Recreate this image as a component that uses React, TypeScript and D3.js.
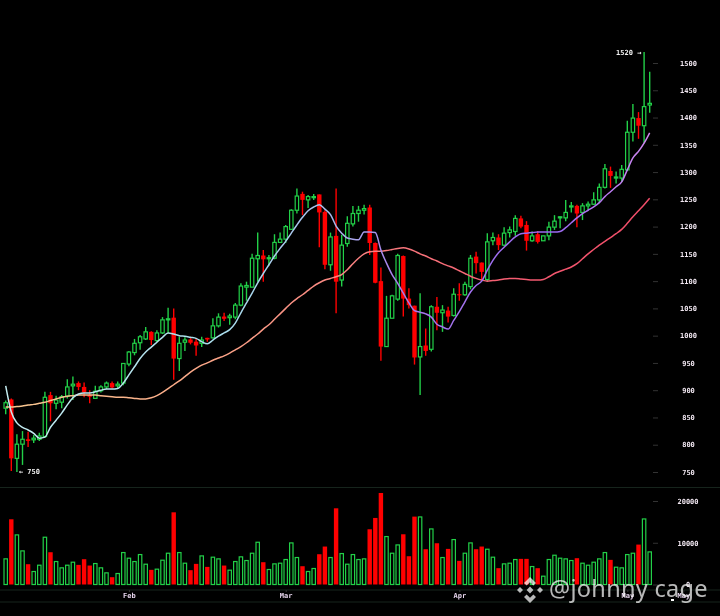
import React, { useEffect, useRef } from "react";
import * as d3 from "d3";

const opens = [867, 883, 775, 801, 810, 809, 810, 815, 891, 876, 878, 889, 908, 913, 906, 891, 885, 899, 906, 913, 908, 913, 948, 969, 987, 994, 1007, 991, 1005, 1029, 1033, 958, 988, 993, 989, 986, 996, 996, 1018, 1035, 1033, 1034, 1056, 1089, 1089, 1141, 1147, 1141, 1142, 1171, 1177, 1195, 1230, 1260, 1249, 1253, 1259, 1227, 1130, 1183, 1102, 1169, 1205, 1224, 1230, 1235, 1170, 1100, 980, 1032, 1067, 1146, 1068, 1055, 961, 982, 975, 1053, 1042, 1046, 1037, 1076, 1075, 1090, 1145, 1134, 1103, 1174, 1180, 1166, 1189, 1191, 1215, 1203, 1174, 1186, 1174, 1183, 1199, 1216, 1216, 1236, 1238, 1226, 1238, 1241, 1249, 1272, 1302, 1289, 1289, 1304, 1373, 1399, 1385, 1423];
const highs = [881, 885, 819, 825, 824, 818, 822, 897, 897, 890, 891, 920, 925, 916, 914, 900, 908, 909, 916, 916, 916, 950, 972, 994, 1001, 1016, 1008, 1010, 1034, 1051, 1050, 998, 997, 996, 995, 998, 996, 1032, 1041, 1042, 1040, 1060, 1096, 1099, 1150, 1189, 1157, 1148, 1186, 1189, 1203, 1232, 1270, 1264, 1258, 1260, 1259, 1230, 1189, 1270, 1185, 1219, 1238, 1238, 1240, 1240, 1171, 1125, 1073, 1075, 1150, 1147, 1087, 1055, 1078, 1013, 1056, 1071, 1056, 1053, 1087, 1096, 1099, 1148, 1154, 1134, 1188, 1189, 1186, 1199, 1200, 1221, 1220, 1210, 1191, 1192, 1183, 1209, 1221, 1219, 1249, 1245, 1240, 1243, 1246, 1263, 1279, 1315, 1310, 1301, 1313, 1394, 1425, 1410, 1520, 1484];
const lows = [856, 752, 750, 763, 796, 803, 807, 813, 843, 865, 867, 885, 882, 900, 887, 876, 885, 896, 902, 903, 903, 909, 944, 964, 974, 992, 983, 988, 1003, 1005, 919, 935, 972, 984, 963, 979, 989, 995, 1015, 1027, 1020, 1030, 1054, 1064, 1089, 1099, 1099, 1128, 1140, 1170, 1170, 1194, 1224, 1221, 1234, 1249, 1162, 1122, 1119, 1041, 1090, 1163, 1200, 1209, 1222, 1148, 1096, 954, 980, 1032, 1064, 1035, 1050, 947, 891, 963, 971, 1010, 1007, 1024, 1035, 1064, 1073, 1085, 1114, 1102, 1100, 1166, 1157, 1164, 1180, 1183, 1197, 1156, 1172, 1169, 1174, 1175, 1194, 1197, 1210, 1226, 1199, 1212, 1229, 1240, 1243, 1270, 1271, 1279, 1282, 1302, 1356, 1361, 1353, 1409];
const closes = [877, 775, 801, 810, 807, 812, 816, 887, 876, 882, 888, 906, 911, 906, 896, 888, 898, 906, 913, 905, 911, 949, 970, 986, 998, 1007, 992, 1005, 1029, 1031, 958, 986, 992, 987, 982, 992, 993, 1018, 1034, 1031, 1036, 1056, 1091, 1092, 1142, 1147, 1140, 1143, 1171, 1177, 1200, 1230, 1256, 1249, 1255, 1255, 1226, 1130, 1181, 1099, 1166, 1206, 1224, 1230, 1233, 1170, 1097, 980, 1032, 1073, 1147, 1068, 1056, 960, 980, 972, 1053, 1042, 1047, 1035, 1076, 1074, 1094, 1142, 1133, 1117, 1172, 1180, 1166, 1188, 1194, 1215, 1200, 1174, 1183, 1172, 1183, 1199, 1210, 1218, 1226, 1238, 1224, 1238, 1241, 1249, 1272, 1306, 1293, 1291, 1305, 1373, 1399, 1385, 1420, 1426];
const volumes = [6140, 15620, 11880, 8050, 4860, 3110, 4620, 11320, 7730, 5500, 3990, 4620, 5340, 4700, 6060, 4540, 5020, 3990, 2790, 1750, 2630, 7650, 6300, 5500, 7170, 4860, 3510, 3670, 5820, 7490, 17290, 7650, 5100, 3430, 4940, 6850, 4220, 6540, 6140, 4540, 3430, 5500, 6620, 5740, 7490, 10120, 5340, 3590, 4940, 5100, 5980, 9960, 6460, 4380, 3110, 3830, 7250, 9090, 6460, 18250, 7410, 4860, 7170, 5980, 6140, 13230, 15940, 21920, 11480, 7490, 9480, 12030, 6770, 16260, 16180, 8450, 13310, 9880, 6460, 8530, 10760, 5660, 7490, 9960, 8450, 9090, 8450, 6540, 3910, 4940, 5100, 5980, 6140, 6140, 4300, 3910, 1990, 5980, 7010, 6300, 6140, 5740, 6300, 5100, 4620, 5340, 6140, 7650, 5900, 4140, 3990, 7170, 7490, 9560, 15700, 7810];
const fastMa = [908, 860, 840, 832, 827, 821, 812, 814, 832, 845, 858, 873, 886, 893, 895, 895, 897, 900, 902, 902, 903, 913, 928, 943, 958, 970, 979, 988, 997, 1005, 1003, 1000, 999, 997, 995, 989, 985, 992, 999, 1005, 1011, 1023, 1042, 1060, 1078, 1097, 1114, 1130, 1146, 1160, 1173, 1188, 1203, 1217, 1229, 1236, 1240, 1232, 1222, 1201, 1188, 1179, 1177, 1176, 1190, 1190, 1189, 1157, 1133, 1112, 1096, 1078, 1060, 1046, 1043, 1040, 1034, 1021, 1016, 1012, 1028, 1044, 1062, 1080, 1092, 1100, 1120, 1138, 1152, 1162, 1172, 1181, 1187, 1188, 1189, 1190, 1190, 1190, 1190, 1191, 1198, 1207, 1216, 1224, 1230, 1236, 1244, 1255, 1264, 1273, 1282, 1304, 1326, 1338, 1353, 1372];
const slowMa = [869, 869, 870, 871, 873, 874, 876, 878, 881, 884, 887, 889, 890, 891, 891, 891, 891, 890, 889, 888, 887, 887, 886, 885, 884, 884, 886, 890, 896, 903, 910, 917, 925, 933, 940, 946, 950, 955, 959, 963, 968, 974, 980, 987, 995, 1003, 1012, 1020, 1030, 1040, 1050, 1060, 1068, 1075, 1083, 1091, 1097, 1102, 1105, 1108, 1112, 1121, 1132, 1142, 1150, 1154, 1155, 1155, 1156, 1158, 1160, 1161, 1159, 1155, 1150, 1146, 1141, 1137, 1132, 1128, 1124, 1119, 1114, 1109, 1105, 1102, 1100, 1101, 1102, 1104, 1105, 1105, 1104, 1103, 1102, 1102, 1103, 1108, 1114, 1118, 1122, 1126, 1132, 1141, 1150, 1158, 1166, 1173, 1180, 1187, 1195, 1206, 1218, 1229, 1240, 1252];
const priceTicks = d3.range(750, 1501, 50);
const volumeTicks = [0, 10000, 20000];
const monthTicks = [new Date(Date.UTC(2017, 1, 1)), new Date(Date.UTC(2017, 2, 1)), new Date(Date.UTC(2017, 3, 1)), new Date(Date.UTC(2017, 4, 1)), new Date(Date.UTC(2017, 4, 11))];
const startDate = new Date(Date.UTC(2017, 0, 10));

const GREEN = "#22d048";
const RED = "#ff0000";
const MONO = "'DejaVu Sans Mono', monospace";

export default function App() {
  const ref = useRef<SVGSVGElement>(null);

  useEffect(() => {
    if (!ref.current) return;
    const svg = d3.select(ref.current);
    svg.selectAll("*").remove();

    const dates = opens.map((_, i) => d3.utcDay.offset(startDate, i));
    const x = d3.scaleUtc().domain([startDate, dates[dates.length - 1]]).range([5.7, 649.7]);
    const y = d3.scaleLinear().domain([750, 1500]).range([472, 63]);
    const yVol = d3.scaleLinear().domain([0, 20000]).range([584.5, 501]);

    svg.append("rect").attr("width", 720).attr("height", 616).attr("fill", "#000");

    // frame lines between the panes
    svg.selectAll(".sep").data([487.5, 590, 602]).join("line")
      .attr("x1", 0).attr("x2", 720).attr("y1", d => d).attr("y2", d => d)
      .attr("stroke", "#16241c").attr("stroke-width", 1);

    // defs for the moving average colours
    const defs = svg.append("defs");
    const addGrad = (id: string, stops: [number, string][]) => {
      const g = defs.append("linearGradient").attr("id", id)
        .attr("gradientUnits", "userSpaceOnUse")
        .attr("x1", x.range()[0]).attr("x2", x.range()[1]).attr("y1", 0).attr("y2", 0);
      stops.forEach(([o, c]) => g.append("stop").attr("offset", o).attr("stop-color", c));
    };
    addGrad("fastGrad", [[0, "#c4ecf0"], [0.35, "#a8dcec"], [0.5, "#a9bcec"], [0.62, "#a878ec"], [0.85, "#9868f0"], [1, "#d088f0"]]);
    addGrad("slowGrad", [[0, "#f8c890"], [0.3, "#fba888"], [0.55, "#f98080"], [0.8, "#f45a70"], [1, "#f04c68"]]);

    // candles
    const candles = svg.append("g");
    const g = candles.selectAll("g").data(dates).join("g");
    const isUp = (i: number) => closes[i] >= opens[i];
    g.append("line")
      .attr("x1", d => x(d)).attr("x2", d => x(d))
      .attr("y1", (_, i) => y(highs[i])).attr("y2", (_, i) => y(lows[i]))
      .attr("stroke", (_, i) => (isUp(i) ? GREEN : RED)).attr("stroke-width", 1.4);
    g.append("rect")
      .attr("x", (d, i) => x(d) - (isUp(i) ? 1.7 : 2.2))
      .attr("width", (_, i) => (isUp(i) ? 3.4 : 4.4))
      .attr("y", (_, i) => y(Math.max(opens[i], closes[i])))
      .attr("height", (_, i) => Math.max(1, Math.abs(y(opens[i]) - y(closes[i]))))
      .attr("fill", (_, i) => (isUp(i) ? "#000" : RED))
      .attr("stroke", (_, i) => (isUp(i) ? GREEN : "none"))
      .attr("stroke-width", 1.2);

    // volume bars
    svg.append("g").selectAll("rect").data(dates).join("rect")
      .attr("x", (d, i) => x(d) - (isUp(i) ? 1.7 : 2.2))
      .attr("width", (_, i) => (isUp(i) ? 3.4 : 4.4))
      .attr("y", (_, i) => yVol(volumes[i]))
      .attr("height", (_, i) => yVol(0) - yVol(volumes[i]))
      .attr("fill", (_, i) => (isUp(i) ? "#000" : RED))
      .attr("stroke", (_, i) => (isUp(i) ? GREEN : "none"))
      .attr("stroke-width", 1.2);

    // moving averages
    const line = d3.line<number>()
      .x((_, i) => x(dates[i]))
      .y(d => y(d))
      .curve(d3.curveMonotoneX);
    svg.append("path").attr("d", line(slowMa)).attr("fill", "none")
      .attr("stroke", "url(#slowGrad)").attr("stroke-width", 1.5);
    svg.append("path").attr("d", line(fastMa)).attr("fill", "none")
      .attr("stroke", "url(#fastGrad)").attr("stroke-width", 1.5);

    // axes
    const styleAxis = (sel: d3.Selection<SVGGElement, unknown, null, undefined>) => {
      sel.select(".domain").remove();
      sel.selectAll(".tick line").attr("stroke", "#333");
      sel.selectAll(".tick text")
        .attr("font-family", MONO).attr("font-size", 7).attr("font-weight", "bold")
        .attr("fill", "#f2e8f2");
    };
    const priceAxis = svg.append("g").attr("transform", "translate(653,0)")
      .call(d3.axisRight(y).tickValues(priceTicks).tickSize(5).tickFormat(d3.format("d") as any));
    styleAxis(priceAxis);
    priceAxis.selectAll(".tick text").attr("x", 35.5).attr("text-anchor", "middle");

    const volAxis = svg.append("g").attr("transform", "translate(653,0)")
      .call(d3.axisRight(yVol).tickValues(volumeTicks).tickSize(5).tickFormat(d3.format("d") as any));
    styleAxis(volAxis);
    volAxis.selectAll(".tick text").attr("x", 35).attr("text-anchor", "middle");

    const timeAxis = svg.append("g").attr("transform", "translate(0,590)")
      .call(d3.axisBottom(x).tickValues(monthTicks).tickSize(2).tickPadding(1).tickFormat(d3.utcFormat("%b") as any));
    styleAxis(timeAxis);
    timeAxis.selectAll(".tick text").attr("fill", "#e6d4ec");

    // high / low notes
    const note = (txt: string, px: number, py: number) =>
      svg.append("text").attr("x", px).attr("y", py).attr("dy", "0.35em")
        .attr("font-family", MONO).attr("font-size", 7).attr("font-weight", "bold")
        .attr("fill", "#f2f2f2").text(txt);
    const hiIdx = highs.indexOf(d3.max(highs)!);
    const loIdx = lows.indexOf(d3.min(lows)!);
    note("1520 →", x(dates[hiIdx]) - 28, y(highs[hiIdx]) + 0.5);
    note("← 750", x(dates[loIdx]) + 2, y(lows[loIdx]));

    // speck near the last date label
    svg.append("rect").attr("x", 671).attr("y", 599).attr("width", 3).attr("height", 2).attr("fill", "#fff");

    // watermark
    const mark = svg.append("g").attr("fill", "#fff").attr("opacity", 0.72);
    const logo = mark.append("g").attr("transform", "translate(530,590)");
    ["M0,-13L6,-7L3.4,-4.4L0,-7.8L-3.4,-4.4L-6,-7Z",
      "M0,13L6,7L3.4,4.4L0,7.8L-3.4,4.4L-6,7Z",
      "M-13,0L-10,-3L-7,0L-10,3Z",
      "M13,0L10,-3L7,0L10,3Z",
      "M0,-3.4L3.4,0L0,3.4L-3.4,0Z"].forEach(p => logo.append("path").attr("d", p));
    mark.append("text").attr("x", 549).attr("y", 597)
      .attr("font-family", "'Noto Sans', sans-serif").attr("font-size", 23.5)
      .attr("letter-spacing", 0.3).text("@johnny cage");
  }, []);

  return <svg ref={ref} width={720} height={616} style={{ position: "absolute", left: 0, top: 0, display: "block", filter: "blur(0.3px)" }} />;
}
